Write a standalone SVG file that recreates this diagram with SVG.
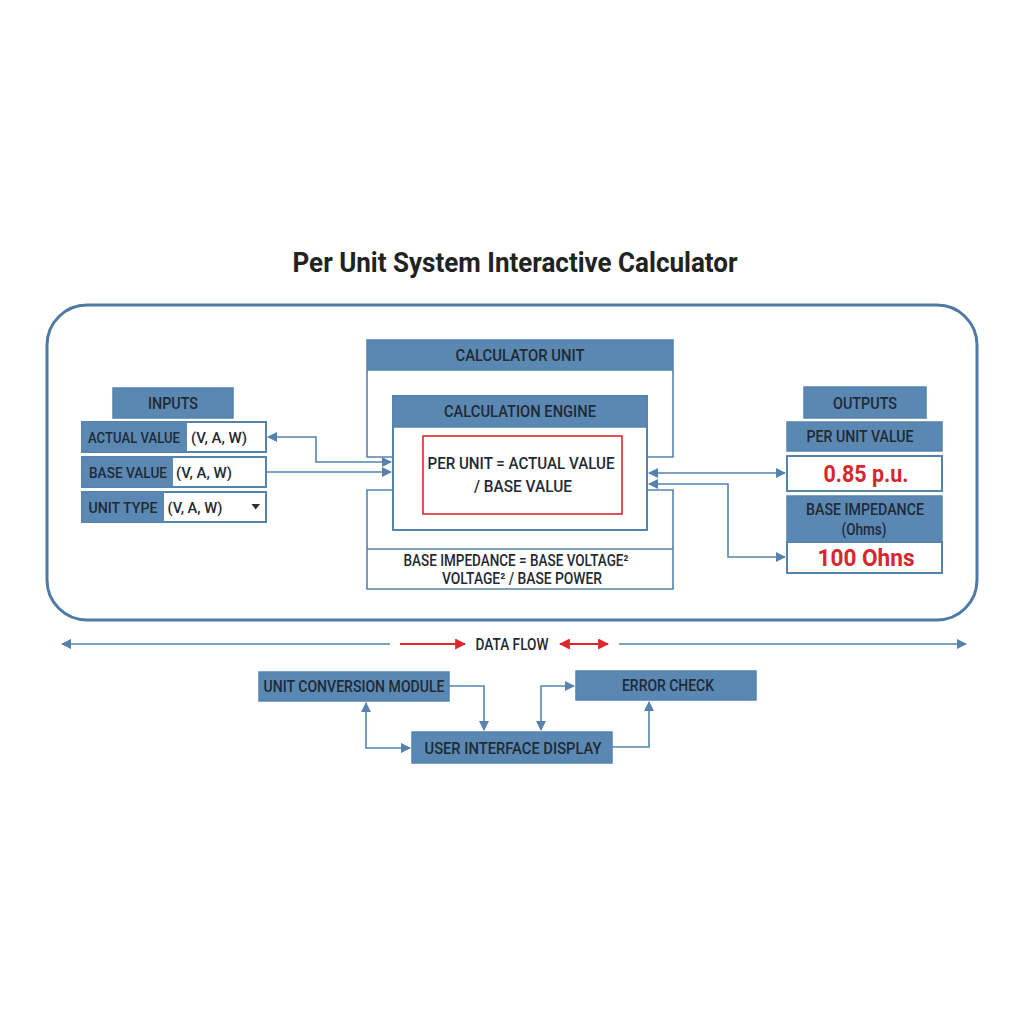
<svg xmlns="http://www.w3.org/2000/svg" width="1024" height="1024" viewBox="0 0 1024 1024">
<defs>
<style>
.t{font-family:Roboto,"Liberation Sans",sans-serif;font-weight:500;font-size:16px;fill:#1f2a35;text-anchor:middle}
.r{font-size:14.5px}
.hd{fill:#5b88b2;stroke:#5583ae;stroke-width:1.5}
.wb{fill:#ffffff;stroke:#5583ae;stroke-width:2}
.ln{fill:none;stroke:#5583ae;stroke-width:1.6}
.red{font-family:Roboto,"Liberation Sans",sans-serif;font-weight:700;font-size:24px;fill:#d7262c;text-anchor:middle}
</style>
<marker id="ah" viewBox="0 0 10 10" refX="9" refY="5" markerWidth="10" markerHeight="10" markerUnits="userSpaceOnUse" orient="auto-start-reverse">
<path d="M0,0 L10,5 L0,10 z" fill="#5583ae"/>
</marker>
<marker id="ahr" viewBox="0 0 10 10" refX="9" refY="5" markerWidth="11" markerHeight="11" markerUnits="userSpaceOnUse" orient="auto-start-reverse">
<path d="M0,0 L10,5 L0,10 z" fill="#e0262c"/>
</marker>
</defs>
<rect width="1024" height="1024" fill="#ffffff"/>

<text x="515" y="272" font-family="Roboto,'Liberation Sans',sans-serif" font-weight="700" font-size="27" fill="#222" text-anchor="middle" textLength="445" lengthAdjust="spacingAndGlyphs">Per Unit System Interactive Calculator</text>

<g id="frame">
<rect x="47" y="305" width="930" height="315" rx="40" fill="none" stroke="#4f7aa6" stroke-width="3"/>
</g>

<g id="inputs">
<rect class="hd" x="113" y="388" width="120" height="30"/>
<text class="t" x="173" y="409" textLength="50" lengthAdjust="spacingAndGlyphs">INPUTS</text>
</g>
<g id="actual-value">
<rect class="wb" x="82" y="422" width="184" height="30"/>
<rect x="82" y="422" width="105" height="30" fill="#5b88b2"/>
<text class="t r" x="134" y="442.5" textLength="92" lengthAdjust="spacingAndGlyphs">ACTUAL VALUE</text>
<text class="t r" x="219" y="442.5" textLength="56" lengthAdjust="spacingAndGlyphs">(V, A, W)</text>
</g>
<g id="base-value">
<rect class="wb" x="82" y="457" width="184" height="30"/>
<rect x="82" y="457" width="91" height="30" fill="#5b88b2"/>
<text class="t r" x="128" y="477.5" textLength="78" lengthAdjust="spacingAndGlyphs">BASE VALUE</text>
<text class="t r" x="204" y="477.5" textLength="56" lengthAdjust="spacingAndGlyphs">(V, A, W)</text>
</g>
<g id="unit-type">
<rect class="wb" x="82" y="492" width="184" height="30"/>
<rect x="82" y="492" width="82" height="30" fill="#5b88b2"/>
<text class="t r" x="123" y="512.5" textLength="69" lengthAdjust="spacingAndGlyphs">UNIT TYPE</text>
<text class="t r" x="195" y="512.5" textLength="55" lengthAdjust="spacingAndGlyphs">(V, A, W)</text>
<path d="M251.5,504 L260,504 L255.7,509.5 z" fill="#2a2f36"/>
</g>

<g id="calculator-unit">
<rect class="hd" x="367" y="340" width="306" height="30"/>
<text class="t" x="520" y="361" textLength="129" lengthAdjust="spacingAndGlyphs">CALCULATOR UNIT</text>
<path class="ln" d="M367,370 V457 H393 M673,370 V457 H647 M393,490 H367 V589 H673 V490 H647 M367,549 H673" stroke-width="2"/>
<text class="t" x="516" y="566" textLength="225" lengthAdjust="spacingAndGlyphs" font-size="15">BASE IMPEDANCE = BASE VOLTAGE²</text>
<text class="t" x="522" y="584" textLength="160" lengthAdjust="spacingAndGlyphs" font-size="15">VOLTAGE² / BASE POWER</text>
</g>

<g id="calculation-engine">
<rect class="wb" x="393" y="396" width="254" height="134"/>
<rect class="hd" x="393" y="396" width="254" height="31"/>
<text class="t" x="520" y="417" textLength="152" lengthAdjust="spacingAndGlyphs">CALCULATION ENGINE</text>
<rect x="423" y="436" width="199" height="78" fill="#ffffff" stroke="#e0262c" stroke-width="1.6"/>
<text class="t" x="521" y="469" textLength="187" lengthAdjust="spacingAndGlyphs">PER UNIT = ACTUAL VALUE</text>
<text class="t" x="523" y="492" textLength="98" lengthAdjust="spacingAndGlyphs">/ BASE VALUE</text>
</g>

<g id="outputs">
<rect class="hd" x="804" y="387" width="122" height="31"/>
<text class="t" x="865" y="409" textLength="64" lengthAdjust="spacingAndGlyphs">OUTPUTS</text>
</g>
<g id="per-unit-value">
<rect class="hd" x="787" y="422" width="155" height="29"/>
<text class="t" x="860" y="442" textLength="107" lengthAdjust="spacingAndGlyphs">PER UNIT VALUE</text>
<rect class="wb" x="787" y="456" width="155" height="35"/>
<text class="red" x="866" y="482" textLength="85" lengthAdjust="spacingAndGlyphs">0.85 p.u.</text>
</g>
<g id="base-impedance">
<rect class="hd" x="787" y="496" width="155" height="46"/>
<text class="t" x="865" y="515" textLength="118" lengthAdjust="spacingAndGlyphs">BASE IMPEDANCE</text>
<text class="t" x="864" y="535" font-weight="400" font-size="14" textLength="45" lengthAdjust="spacingAndGlyphs">(Ohms)</text>
<rect class="wb" x="787" y="542" width="155" height="31"/>
<text class="red" x="866" y="566" textLength="97" lengthAdjust="spacingAndGlyphs">100 Ohns</text>
</g>

<g id="unit-conversion-module">
<rect class="hd" x="259" y="672" width="190" height="29"/>
<text class="t" x="354" y="692" textLength="181" lengthAdjust="spacingAndGlyphs">UNIT CONVERSION MODULE</text>
</g>
<g id="error-check">
<rect class="hd" x="576" y="671" width="180" height="29"/>
<text class="t" x="668" y="691" textLength="92" lengthAdjust="spacingAndGlyphs">ERROR CHECK</text>
</g>
<g id="user-interface-display">
<rect class="hd" x="412" y="732" width="200" height="31"/>
<text class="t" x="513" y="754" textLength="177" lengthAdjust="spacingAndGlyphs">USER INTERFACE DISPLAY</text>
</g>

<g id="data-flow">
<text class="t" x="512" y="650" font-size="15" textLength="73" lengthAdjust="spacingAndGlyphs">DATA FLOW</text>
</g>

<g id="connectors">
<path class="ln" d="M268,437 H316 V462 H391" marker-start="url(#ah)" marker-end="url(#ah)"/>
<path class="ln" d="M266,472 H391" marker-end="url(#ah)"/>
<path class="ln" d="M649,473 H785" marker-start="url(#ah)" marker-end="url(#ah)"/>
<path class="ln" d="M649,484 H728 V557 H785" marker-start="url(#ah)" marker-end="url(#ah)"/>
<path class="ln" d="M390,644 H62" marker-end="url(#ah)"/>
<path class="ln" d="M619,644 H966" marker-end="url(#ah)"/>
<path d="M400,644 H465" fill="none" stroke="#e0262c" stroke-width="2" marker-end="url(#ahr)"/>
<path d="M560,644 H608" fill="none" stroke="#e0262c" stroke-width="2" marker-start="url(#ahr)" marker-end="url(#ahr)"/>
<path class="ln" d="M449,686 H484 V730" marker-end="url(#ah)"/>
<path class="ln" d="M366,703 V748 H410" marker-start="url(#ah)" marker-end="url(#ah)"/>
<path class="ln" d="M541,730 V686 H574" marker-start="url(#ah)" marker-end="url(#ah)"/>
<path class="ln" d="M612,747 H649 V702" marker-end="url(#ah)"/>
</g>
</svg>
